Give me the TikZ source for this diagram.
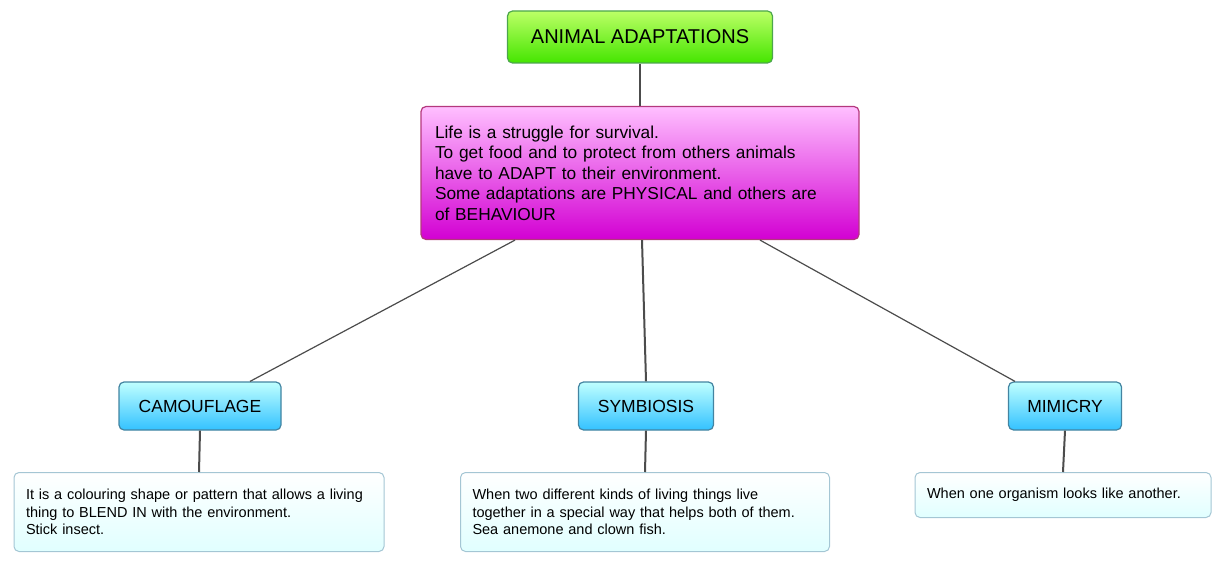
\documentclass[tikz,border=0pt]{standalone}
\usepackage{fontspec}
\setmainfont{Liberation Sans}
\begin{document}
\begin{tikzpicture}[x=1pt,y=-1pt,
 box/.style={draw, rounded corners=5pt, line width=1.2pt, inner sep=0pt, align=left},
 green/.style={box, draw=green!50!black!70, top color=green!25!lime!60, bottom color=green!60!lime!90!black, font=\fontsize{20}{24}\selectfont},
 magenta/.style={box, draw=magenta!70!black, top color=magenta!25, bottom color=magenta!65!violet, font=\fontsize{17.3}{20.5}\selectfont},
 blue/.style={box, draw=cyan!60!black, top color=cyan!25, bottom color=cyan!70!blue!80, font=\fontsize{17.5}{20}\selectfont, align=center},
 desc/.style={box, draw=gray!60!cyan!60, line width=1pt, top color=white, bottom color=cyan!12, font=\fontsize{14.5}{17.5}\selectfont},
 link/.style={draw=gray!60!black, line width=2pt}]
\useasboundingbox (0,0) rectangle (1222,564);
\node[green, minimum width=265pt, minimum height=52pt, align=center] (t) at (640,37) {ANIMAL ADAPTATIONS};
\node[magenta, minimum width=438pt, minimum height=133pt, text width=410pt] (m) at (640,173) {Life is a struggle for survival.\\To get food and to protect from others animals\\have to ADAPT to their environment.\\Some adaptations are PHYSICAL and others are\\of BEHAVIOUR};
\node[blue, minimum width=162pt, minimum height=48pt] (c) at (200,406) {CAMOUFLAGE};
\node[blue, minimum width=135pt, minimum height=48pt] (s) at (646,406) {SYMBIOSIS};
\node[blue, minimum width=113pt, minimum height=48pt] (mi) at (1065,406) {MIMICRY};
\node[desc, minimum width=370pt, minimum height=79pt, text width=346pt] (d1) at (199,512) {It is a colouring shape or pattern that allows a living\\thing to BLEND IN with the environment.\\Stick insect.};
\node[desc, minimum width=369pt, minimum height=79pt, text width=345pt] (d2) at (645,512) {When two different kinds of living things live\\together in a special way that helps both of them.\\Sea anemone and clown fish.};
\node[desc, minimum width=296pt, minimum height=45pt, text width=272pt] (d3) at (1063,495) {When one organism looks like another.};
\draw[link] (t.south) -- (m.north);
\draw[link, line width=1.2pt] ([xshift=-125pt]m.south) -- ([xshift=50pt]c.north);
\draw[link] ([xshift=2pt]m.south) -- (s.north);
\draw[link, line width=1.2pt] ([xshift=120pt]m.south) -- ([xshift=-50pt]mi.north);
\draw[link] (c.south) -- (d1.north);
\draw[link] (s.south) -- (d2.north);
\draw[link] (mi.south) -- (d3.north);
\end{tikzpicture}
\end{document}
